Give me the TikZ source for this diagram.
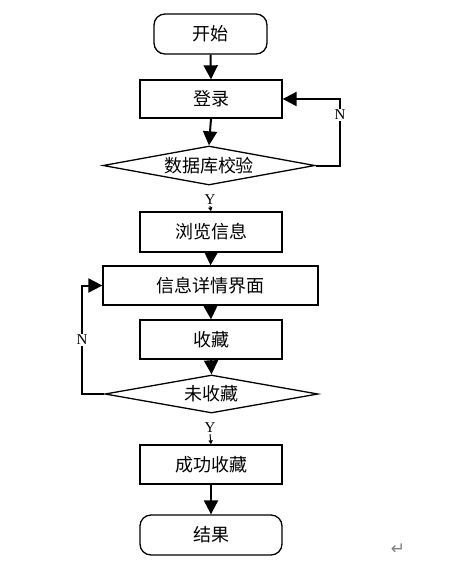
\documentclass[tikz,border=0pt]{standalone}
\usepackage{fontspec}
\newfontfamily\cjk{Noto Sans CJK SC}
\newfontfamily\dvs{DejaVu Sans}
\newfontfamily\tms{Liberation Serif}
\usetikzlibrary{shapes.geometric,arrows.meta}
\tikzset{
  box/.style={draw, line width=1.3pt, inner sep=0pt, font=\cjk\fontsize{18}{18}\selectfont},
  term/.style={box, rounded corners=11pt},
  dec/.style={draw, diamond, line width=1.3pt, inner sep=0pt, aspect=5.4, font=\cjk\fontsize{18}{18}\selectfont},
  lbl/.style={fill=white, inner sep=1pt, font=\tms\fontsize{15}{15}\selectfont},
  arr/.style={line width=2pt, -{Triangle[width=14pt,length=14pt]}},
  thin/.style={line width=1pt, -{Triangle[width=4pt,length=4pt]}},
  ln/.style={line width=2pt}
}
\begin{document}
\begin{tikzpicture}[x=1pt,y=-1pt]
\useasboundingbox[fill=white] (0,0) rectangle (464,566);
\node[term, minimum width=113pt, minimum height=40pt] (start) at (210.5,34) {开始};
\node[box, minimum width=142pt, minimum height=38pt] (login) at (211,99) {登录};
\node[dec, minimum width=212pt, minimum height=39pt] (d1) at (209,165.5) {数据库校验};
\node[lbl] (y1) at (210,200) {Y};
\node[box, minimum width=142pt, minimum height=40pt] (browse) at (211,232) {浏览信息};
\node[box, minimum width=215pt, minimum height=39pt] (detail) at (210.5,285.5) {信息详情界面};
\node[box, minimum width=142pt, minimum height=39pt] (fav) at (211,339.5) {收藏};
\node[dec, minimum width=213pt, minimum height=38pt] (d2) at (211.5,394) {未收藏};
\node[lbl] (y2) at (210,428) {Y};
\node[box, minimum width=142pt, minimum height=39pt] (done) at (211,464.5) {成功收藏};
\node[term, minimum width=142pt, minimum height=40pt] (end) at (211,535) {结果};
\node[lbl] (n1) at (340,115) {N};
\node[lbl] (n2) at (82,340) {N};
\node[text=gray, font=\dvs\fontsize{17}{17}\selectfont] (ret) at (398,549) {↵};

\draw[arr] (start.south) -- (login.north);
\draw[arr] (login.south) -- (d1.north);
\draw[thin] (y1.south) -- (browse.north);
\draw[arr] (browse.south) -- (detail.north);
\draw[arr] (detail.south) -- (fav.north);
\draw[arr] (fav.south) -- (d2.north);
\draw[thin] (y2.south) -- (done.north);
\draw[arr] (done.south) -- (end.north);
\draw[ln] (d1.east) -| (n1.south);
\draw[arr] (n1.north) |- (login.east);
\draw[ln] (d2.west) -| (n2.south);
\draw[arr] (n2.north) |- (detail.west);
\end{tikzpicture}
\end{document}
